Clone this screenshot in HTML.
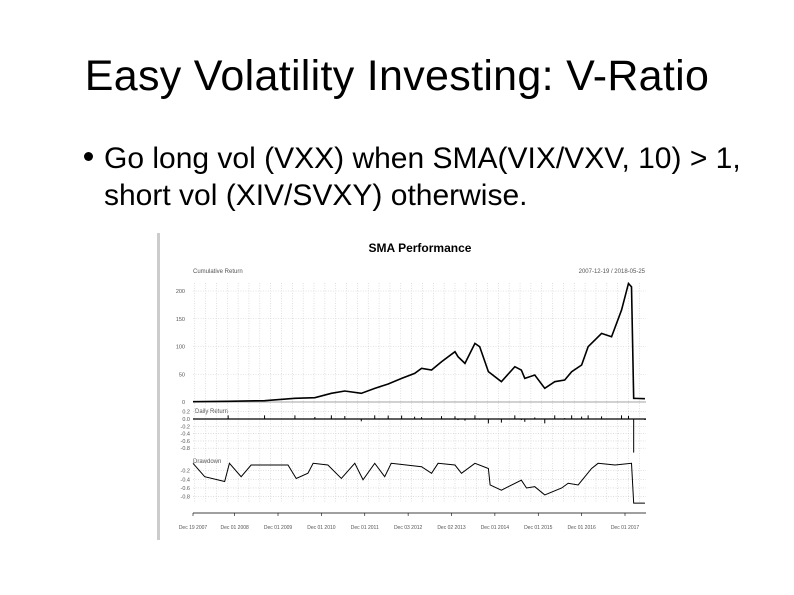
<!DOCTYPE html>
<html><head><meta charset="utf-8"><style>
body{margin:0;width:794px;height:595px;background:#fff;overflow:hidden;position:relative;font-family:"Liberation Sans",sans-serif}
#title{position:absolute;left:0;width:794px;top:52px;text-align:center;font-size:43px;color:#000;letter-spacing:0.3px}
#bullet{position:absolute;left:84px;top:152px;width:9px;height:9px;border-radius:50%;background:#000}
#btext{position:absolute;left:104px;top:140px;font-size:30px;line-height:37px;color:#000}
svg{position:absolute;left:0;top:0}
</style></head><body>
<div id="title">Easy Volatility Investing: V-Ratio</div>
<div id="bullet"></div>
<div id="btext">Go long vol (VXX) when SMA(VIX/VXV, 10) &gt; 1,<br>short vol (XIV/SVXY) otherwise.</div>
<svg id="chart" width="794" height="595">
<rect x="157" y="233" width="3" height="307" fill="#ccc"/>
<text x="420" y="252" text-anchor="middle" font-size="12" font-weight="bold" font-family="Liberation Sans">SMA Performance</text>
<text x="193" y="273" font-size="6" fill="#555" font-family="Liberation Sans">Cumulative Return</text>
<text x="645" y="273" text-anchor="end" font-size="6" fill="#555" font-family="Liberation Sans">2007-12-19 / 2018-05-25</text>
<text x="195" y="413" font-size="6" fill="#555" font-family="Liberation Sans">Daily Return</text>
<text x="193" y="463" font-size="6" fill="#555" font-family="Liberation Sans">Drawdown</text>
<g id="g"></g>
</svg>
<script>
const years=[2007.96,2008.77,2009.61,2010.31,2010.77,2011.15,2011.46,2011.84,2012.15,2012.46,2012.77,2013.07,2013.23,2013.46,2013.69,2014.0,2014.07,2014.23,2014.46,2014.57,2014.77,2015.07,2015.38,2015.53,2015.61,2015.84,2016.07,2016.3,2016.53,2016.69,2016.92,2017.07,2017.38,2017.61,2017.84,2018.0,2018.07,2018.12,2018.38];
const cumValues=[0.6,1.2,2.4,6.6,7.8,15.6,19.8,15.6,24.6,32.4,42.6,51.6,60.6,57.6,72.6,90.6,81.6,69.6,105.6,99.6,54.6,36.6,63.6,57.6,42.6,48.6,24.6,36.6,39.6,54.6,66.6,99.6,123.6,117.6,165.6,213.6,207.6,6.6,6];
const ddYears=[2007.96,2008.23,2008.69,2008.8,2009.07,2009.3,2010.15,2010.34,2010.61,2010.73,2011.07,2011.38,2011.69,2011.88,2012.15,2012.38,2012.53,2013.23,2013.46,2013.61,2014.0,2014.15,2014.46,2014.77,2014.81,2015.07,2015.53,2015.65,2015.84,2016.07,2016.46,2016.61,2016.84,2017.15,2017.3,2017.69,2018.07,2018.12,2018.38];
const ddValues=[-0.03,-0.34,-0.45,-0.03,-0.34,-0.07,-0.07,-0.38,-0.26,-0.03,-0.07,-0.38,-0.03,-0.41,-0.03,-0.34,-0.03,-0.11,-0.26,-0.03,-0.07,-0.26,-0.03,-0.15,-0.53,-0.65,-0.42,-0.6,-0.57,-0.76,-0.6,-0.49,-0.53,-0.15,-0.03,-0.07,-0.03,-0.95,-0.95];
const cumTicks=[0,50,100,150,200];
const retTicks=[0.2,0.0,-0.2,-0.4,-0.6,-0.8];
const ddTicks=[-0.2,-0.4,-0.6,-0.8];
const dateLabels=["Dec 19 2007","Dec 01 2008","Dec 01 2009","Dec 01 2010","Dec 01 2011","Dec 03 2012","Dec 02 2013","Dec 01 2014","Dec 01 2015","Dec 01 2016","Dec 01 2017"];
const dateYears=[2007.96,2008.92,2009.92,2010.92,2011.92,2012.92,2013.92,2014.92,2015.92,2016.92,2017.92];
const NS="http://www.w3.org/2000/svg",g=document.getElementById('g');
const X=t=>193+(t-2007.96)*(625-193)/(2017.92-2007.96);
const Yc=v=>402-v*(402-291)/200;
const Yr=v=>419-v*36.5;
const Yd=v=>462-v*43.3;
function mk(tag,a){const e=document.createElementNS(NS,tag);for(const k in a)e.setAttribute(k,a[k]);g.appendChild(e);return e;}
for(let t=2008.0;t<2018.4;t+=0.25){
 const l=mk('line',{x1:X(t),x2:X(t),y1:283,y2:503,stroke:'#ccc','stroke-width':0.6,'stroke-dasharray':'1,1.5'});
 
 
}
cumTicks.forEach(v=>{const l=mk('line',{x1:193,x2:646,y1:Yc(v),y2:Yc(v),stroke:'#ccc','stroke-width':0.6,'stroke-dasharray':'1,1.5'});
 
 const t=mk('text',{x:185,y:Yc(v)+2,'text-anchor':'end','font-size':5.5,fill:'#555','font-family':'Liberation Sans'});t.textContent=v;
 });
retTicks.forEach(v=>{const l=mk('line',{x1:193,x2:646,y1:Yr(v),y2:Yr(v),stroke:'#ccc','stroke-width':0.6,'stroke-dasharray':'1,1.5'});
 
 const t=mk('text',{x:190,y:Yr(v)+2,'text-anchor':'end','font-size':5.5,fill:'#555','font-family':'Liberation Sans'});t.textContent=v.toFixed(1);
 });
ddTicks.forEach(v=>{const l=mk('line',{x1:193,x2:646,y1:Yd(v),y2:Yd(v),stroke:'#ccc','stroke-width':0.6,'stroke-dasharray':'1,1.5'});
 
 const t=mk('text',{x:190,y:Yd(v)+2,'text-anchor':'end','font-size':5.5,fill:'#555','font-family':'Liberation Sans'});t.textContent=v.toFixed(1);
 });
[[402,'#888'],[513,'#000']].forEach(([y,c])=>{const l=mk('line',{x1:193,x2:646,y1:y,y2:y,stroke:c,'stroke-width':0.8});
 });
dateYears.forEach((t,i)=>{const l=mk('line',{x1:X(t),x2:X(t),y1:513,y2:516,stroke:'#000','stroke-width':0.6});
 
 const tx=mk('text',{x:X(t),y:529,'text-anchor':'middle','font-size':5,fill:'#555','font-family':'Liberation Sans'});tx.textContent=dateLabels[i];
 });
const cum=mk('polyline',{points:years.map((t,i)=>X(t)+','+Yc(cumValues[i])).join(' '),fill:'none',stroke:'#000','stroke-width':1.6});

const rl=mk('line',{x1:193,x2:646,y1:Yr(0),y2:Yr(0),stroke:'#000','stroke-width':1.2});

for(let i=1;i<years.length;i++){const r=cumValues[i]/cumValues[i-1]-1;const rr=Math.max(-0.12,Math.min(0.1,r*0.3));
 const b=mk('line',{x1:X(years[i]),x2:X(years[i]),y1:Yr(0),y2:Yr(r<-0.8?-0.92:rr),stroke:'#000','stroke-width':1});
 }
const ddl=mk('polyline',{points:ddYears.map((t,i)=>X(t)+','+Yd(ddValues[i])).join(' '),fill:'none',stroke:'#000','stroke-width':1});

</script>
</body></html>
